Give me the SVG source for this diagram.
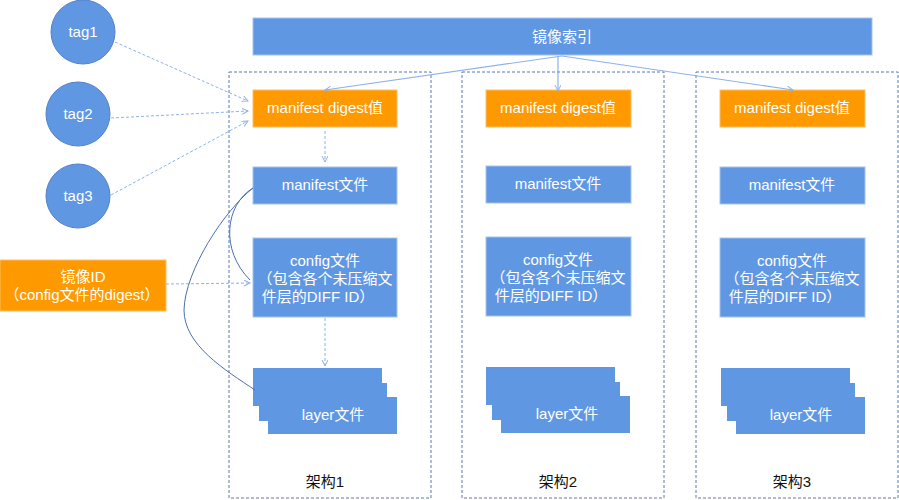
<svg xmlns="http://www.w3.org/2000/svg" width="899" height="500" viewBox="0 0 899 500">
<style>
text{font-family:"Liberation Sans","Noto Sans CJK SC",sans-serif;font-size:15px;text-anchor:middle}
.w{fill:#ffffff}
.k{fill:#111111}
.blue{fill:#6097e3;stroke:#a6c3ee;stroke-width:1}
.lay{fill:#6097e3}
.org{fill:#ff9900;stroke:#ffbf66;stroke-width:1}
.cont{fill:none;stroke:#5878b4;stroke-width:1;stroke-dasharray:3 2}
.dash{fill:none;stroke:#8db2ea;stroke-width:1;stroke-dasharray:3 2;marker-end:url(#ah)}
.solid{fill:none;stroke:#8db2ea;stroke-width:1.2;marker-end:url(#ah)}
.curve{fill:none;stroke:#4a6fb0;stroke-width:1}
</style>
<defs>
<marker id="ah" markerWidth="8" markerHeight="8" refX="6" refY="3" orient="auto" markerUnits="userSpaceOnUse">
<path d="M0,0 L6,3 L0,6" fill="none" stroke="#8db2ea" stroke-width="1"/>
</marker>
<g id="layershape">
<rect class="lay" x="0" y="0" width="129" height="38"/>
<rect class="lay" x="6" y="15" width="128" height="38"/>
<rect class="lay" x="15" y="29" width="129" height="37"/>
</g>
</defs>

<g id="index">
<rect class="blue" x="253" y="18" width="619" height="37"/>
<text class="w" x="562" y="42">镜像索引</text>
</g>

<g id="arch1">
<rect class="cont" x="229" y="72" width="202" height="426"/>
<text class="k" x="325" y="487">架构1</text>
</g>
<g id="arch2">
<rect class="cont" x="462" y="72" width="202" height="426"/>
<text class="k" x="558" y="487">架构2</text>
</g>
<g id="arch3">
<rect class="cont" x="696" y="72" width="202" height="426"/>
<text class="k" x="792" y="487">架构3</text>
</g>

<g id="tag1"><circle cx="83" cy="32" r="32" fill="#6097e3" stroke="#5580c8"/><text class="w" x="83" y="37">tag1</text></g>
<g id="tag2"><circle cx="78" cy="114" r="32" fill="#6097e3" stroke="#5580c8"/><text class="w" x="78" y="119">tag2</text></g>
<g id="tag3"><circle cx="78" cy="196" r="32" fill="#6097e3" stroke="#5580c8"/><text class="w" x="78" y="201">tag3</text></g>

<g id="imageid">
<rect class="org" x="0" y="260" width="166" height="51"/>
<text class="w" x="83" y="282">镜像ID</text>
<text class="w" x="82" y="300">（config文件的digest）</text>
</g>

<g id="digest1"><rect class="org" x="253" y="90" width="144" height="37"/><text class="w" x="325" y="113">manifest digest值</text></g>
<g id="digest2"><rect class="org" x="486" y="90" width="145" height="37"/><text class="w" x="558" y="113">manifest digest值</text></g>
<g id="digest3"><rect class="org" x="720" y="90" width="145" height="37"/><text class="w" x="792" y="113">manifest digest值</text></g>

<g id="manifest1"><rect class="blue" x="253" y="167" width="144" height="37"/><text class="w" x="325" y="190">manifest文件</text></g>
<g id="manifest2"><rect class="blue" x="486" y="166" width="145" height="37"/><text class="w" x="558" y="189">manifest文件</text></g>
<g id="manifest3"><rect class="blue" x="720" y="167" width="145" height="37"/><text class="w" x="792" y="190">manifest文件</text></g>

<g id="config1"><rect class="blue" x="253" y="238" width="144" height="79"/>
<text class="w" x="325" y="266">config文件</text>
<text class="w" x="325" y="284">（包含各个未压缩文</text>
<text class="w" x="318" y="302">件层的DIFF ID）</text></g>
<g id="config2"><rect class="blue" x="486" y="237" width="145" height="79"/>
<text class="w" x="558" y="265">config文件</text>
<text class="w" x="558" y="283">（包含各个未压缩文</text>
<text class="w" x="551" y="301">件层的DIFF ID）</text></g>
<g id="config3"><rect class="blue" x="720" y="238" width="145" height="79"/>
<text class="w" x="792" y="266">config文件</text>
<text class="w" x="792" y="284">（包含各个未压缩文</text>
<text class="w" x="785" y="302">件层的DIFF ID）</text></g>

<g id="layer1"><use href="#layershape" transform="translate(253,368)"/><text class="w" x="333" y="420">layer文件</text></g>
<g id="layer2"><use href="#layershape" transform="translate(486,367)"/><text class="w" x="567" y="419">layer文件</text></g>
<g id="layer3"><use href="#layershape" transform="translate(721,368)"/><text class="w" x="801" y="420">layer文件</text></g>

<g id="connectors">
<path class="solid" d="M562,56 L325,90"/>
<path class="solid" d="M558,56 L558,91"/>
<path class="solid" d="M562,56 L793,90"/>
<path class="dash" d="M115,42 L248,101"/>
<path class="dash" d="M111,118 L248,111"/>
<path class="dash" d="M111,195 L248,121"/>
<path class="dash" d="M166,284 L250,283"/>
<path class="dash" d="M325,131 L325,162"/>
<path class="dash" d="M325,318 L325,366"/>
<path class="curve" d="M253,188 C225,210 185,270 184,310 C184,345 225,370 255,390"/>
<path class="curve" d="M253,188 C225,205 220,250 250,280"/>
</g>
</svg>
